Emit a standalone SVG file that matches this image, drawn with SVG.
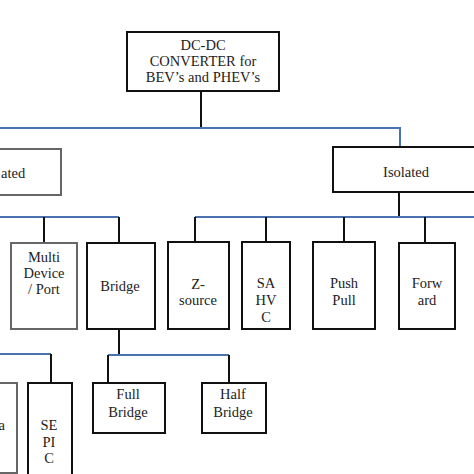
<svg xmlns="http://www.w3.org/2000/svg" width="474" height="474" viewBox="0 0 474 474">
<style>
.box{fill:#fff;stroke:#111;stroke-width:2}
.gbox{fill:#fff;stroke:#666;stroke-width:2}
.t{font-family:"Liberation Serif","Times New Roman",serif;font-size:14.5px;fill:#222;text-anchor:middle}
.blk{stroke:#111;stroke-width:2;fill:none}
.blu{stroke:#4a72b0;stroke-width:2;fill:none}
</style>
<rect width="474" height="474" fill="#fff"/>
<g id="connectors">
<line class="blk" x1="201" y1="91" x2="201" y2="128"/>
<polyline class="blu" points="0,128 400,128 400,147"/>
<line class="blk" x1="399" y1="192" x2="399" y2="217"/>
<line class="blu" x1="195" y1="217" x2="474" y2="217"/>
<line class="blk" x1="195" y1="217" x2="195" y2="242"/>
<line class="blk" x1="266" y1="217" x2="266" y2="242"/>
<line class="blk" x1="344" y1="217" x2="344" y2="242"/>
<line class="blk" x1="425" y1="217" x2="425" y2="243"/>
<line class="blu" x1="0" y1="217" x2="119" y2="217"/>
<line class="blk" x1="44" y1="217" x2="44" y2="243"/>
<line class="blk" x1="119" y1="217" x2="119" y2="243"/>
<line class="blk" x1="119" y1="329" x2="119" y2="355"/>
<line class="blu" x1="108" y1="355" x2="229" y2="355"/>
<line class="blk" x1="108" y1="355" x2="108" y2="383"/>
<line class="blk" x1="229" y1="355" x2="229" y2="383"/>
<line class="blu" x1="0" y1="354" x2="51" y2="354"/>
<line class="blk" x1="51" y1="354" x2="51" y2="383"/>
</g>
<g id="root">
<rect class="box" x="127" y="32" width="152" height="59"/>
<text class="t" x="203" y="50">DC-DC</text>
<text class="t" x="203" y="66">CONVERTER for</text>
<text class="t" x="203" y="82">BEV’s and PHEV’s</text>
</g>
<g id="non-isolated">
<rect class="gbox" x="-90" y="149" width="151" height="46"/>
<text class="t" x="1" y="178" style="text-anchor:start">ated</text>
</g>
<g id="isolated">
<rect class="box" x="333" y="147" width="150" height="45"/>
<text class="t" x="406" y="177">Isolated</text>
</g>
<g id="multi">
<rect class="gbox" x="11" y="243" width="66" height="86"/>
<text class="t" x="44" y="262">Multi</text>
<text class="t" x="44" y="278">Device</text>
<text class="t" x="44" y="294">/ Port</text>
</g>
<g id="bridge">
<rect class="box" x="87" y="243" width="68" height="86"/>
<text class="t" x="120" y="291">Bridge</text>
</g>
<g id="zsource">
<rect class="box" x="168" y="242" width="61" height="87"/>
<text class="t" x="198" y="289">Z-</text>
<text class="t" x="198" y="305">source</text>
</g>
<g id="sahvc">
<rect class="box" x="242" y="242" width="48" height="87"/>
<text class="t" x="266" y="288">SA</text>
<text class="t" x="266" y="305">HV</text>
<text class="t" x="266" y="322">C</text>
</g>
<g id="pushpull">
<rect class="box" x="313" y="242" width="62" height="87"/>
<text class="t" x="344" y="288">Push</text>
<text class="t" x="344" y="305">Pull</text>
</g>
<g id="forward">
<rect class="box" x="399" y="243" width="56" height="86"/>
<text class="t" x="427" y="288">Forw</text>
<text class="t" x="427" y="305">ard</text>
</g>
<g id="fullbridge">
<rect class="box" x="93" y="383" width="72" height="50"/>
<text class="t" x="128" y="399">Full</text>
<text class="t" x="128" y="417">Bridge</text>
</g>
<g id="halfbridge">
<rect class="box" x="202" y="383" width="64" height="50"/>
<text class="t" x="233" y="399">Half</text>
<text class="t" x="233" y="417">Bridge</text>
</g>
<g id="sepic">
<rect class="box" x="28" y="383" width="44" height="100"/>
<text class="t" x="49" y="430">SE</text>
<text class="t" x="49" y="447">PI</text>
<text class="t" x="49" y="463">C</text>
</g>
<g id="partial">
<rect class="gbox" x="-40" y="383" width="57" height="90"/>
<text class="t" x="5" y="430" style="text-anchor:end">a</text>
</g>
</svg>
